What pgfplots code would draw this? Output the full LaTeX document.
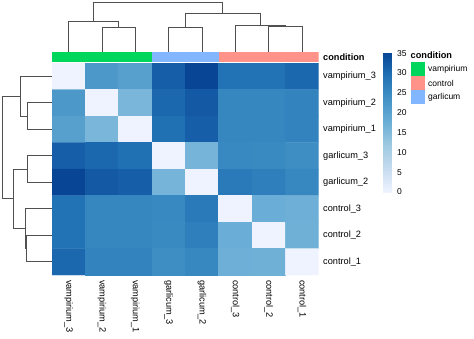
\documentclass[border=0pt]{standalone}
\usepackage{pgfplots}
\usepackage{pgfplotstable}
\pgfplotsset{compat=1.18}
\usepackage{fontspec}
\setmainfont{Liberation Sans}
\definecolor{vamp}{HTML}{00D65C}
\definecolor{ctrl}{HTML}{FF9289}
\definecolor{garl}{HTML}{82B7FF}
\definecolor{tree}{HTML}{505050}
\newcommand\lab{\fontsize{9.2}{11}\selectfont}
\newcommand\leg{\fontsize{8.5}{10}\selectfont}
\pgfplotsset{/pgf/number format/assume math mode=true}
\pgfplotstableread{
x y z
0 0 0
1 0 22.3
2 0 20.5
3 0 32.0
4 0 35.3
5 0 29.2
6 0 29.2
7 0 30.7
0 1 22.3
1 1 0
2 1 16.0
3 1 30.6
4 1 32.6
5 1 25.6
6 1 25.6
7 1 26.2
0 2 20.5
1 2 16.0
2 2 0
3 2 29.6
4 2 32.0
5 2 25.6
6 2 25.6
7 2 26.2
0 3 32.0
1 3 30.6
2 3 29.6
3 3 0
4 3 16.3
5 3 25.4
6 3 25.0
7 3 24.2
0 4 35.3
1 4 32.6
2 4 32.0
3 4 16.3
4 4 0
5 4 27.8
6 4 27.0
7 4 25.5
0 5 29.2
1 5 25.6
2 5 25.6
3 5 25.4
4 5 27.8
5 5 0
6 5 17.8
7 5 17.4
0 6 29.2
1 6 25.6
2 6 25.6
3 6 25.0
4 6 27.0
5 6 17.8
6 6 0
7 6 17.2
0 7 30.7
1 7 26.2
2 7 26.2
3 7 24.2
4 7 25.5
5 7 17.4
6 7 17.2
7 7 0
}\heat
\begin{document}
\begin{tikzpicture}
\path (0pt,0pt) rectangle (474pt,338pt);
% heatmap
\begin{axis}[at={(52pt,63pt)}, anchor=south west, scale only axis,
  width=266.7pt, height=212pt,
  xmin=-0.5, xmax=7.5, ymin=-0.5, ymax=7.5, y dir=reverse,
  axis line style={draw=none}, major tick length=0pt,
  xtick={0,...,7}, ytick={0,...,7},
  xticklabels={vampirium\_3,vampirium\_2,vampirium\_1,garlicum\_3,garlicum\_2,control\_3,control\_2,control\_1},
  yticklabels={vampirium\_3,vampirium\_2,vampirium\_1,garlicum\_3,garlicum\_2,control\_3,control\_2,control\_1},
  yticklabel pos=right,
  xticklabel style={rotate=-90, anchor=west, font=\lab, xshift=1.5pt},
  yticklabel style={anchor=west, font=\lab, xshift=1pt},
  colormap={blues}{rgb255=(239,243,255) rgb255=(198,219,239) rgb255=(158,202,225) rgb255=(107,174,214) rgb255=(66,146,198) rgb255=(33,113,181) rgb255=(8,69,148)},
  point meta min=0, point meta max=35.3,
  colorbar, colorbar shift/.style={},
  colorbar style={at={(parent axis.north east)}, anchor=north west,
    xshift=64.3pt, yshift=11pt, scale only axis, width=8.5pt, height=140pt,
    ytick={0,5,...,35}, axis line style={draw=none}, major tick length=0pt,
    yticklabel style={font=\leg, xshift=2pt}},
]
\addplot[matrix plot*, mesh/cols=8, point meta=explicit] table[meta=z]{\heat};
\end{axis}
% annotation bar
\begin{axis}[at={(52pt,276pt)}, anchor=south west, scale only axis,
  width=266.7pt, height=10pt, xmin=-0.5, xmax=7.5, ymin=0, ymax=1, hide axis]
\addplot[fill=vamp, draw=none] coordinates {(-0.5,0) (2.5,0) (2.5,1) (-0.5,1)};
\addplot[fill=garl, draw=none] coordinates {(2.5,0) (4.5,0) (4.5,1) (2.5,1)};
\addplot[fill=ctrl, draw=none] coordinates {(4.5,0) (7.5,0) (7.5,1) (4.5,1)};
\end{axis}
\node[anchor=west, font=\lab\bfseries, inner sep=0pt] at (323pt,281pt) {condition};
% top dendrogram
\begin{axis}[at={(52pt,286pt)}, anchor=south west, scale only axis,
  width=266.7pt, height=49.3pt, xmin=-0.5, xmax=7.5, ymin=0, ymax=1,
  hide axis, clip=false]
\addplot[tree, line width=0.8pt] coordinates {(1,0) (1,0.5) (2,0.5) (2,0)};
\addplot[tree, line width=0.8pt] coordinates {(0,0) (0,0.63) (1.5,0.63) (1.5,0.5)};
\addplot[tree, line width=0.8pt] coordinates {(3,0) (3,0.5) (4,0.5) (4,0)};
\addplot[tree, line width=0.8pt] coordinates {(6,0) (6,0.51) (7,0.51) (7,0)};
\addplot[tree, line width=0.8pt] coordinates {(5,0) (5,0.54) (6.5,0.54) (6.5,0.51)};
\addplot[tree, line width=0.8pt] coordinates {(3.5,0.5) (3.5,0.785) (5.75,0.785) (5.75,0.54)};
\addplot[tree, line width=0.8pt] coordinates {(0.75,0.63) (0.75,1) (4.625,1) (4.625,0.785)};
\end{axis}
% left dendrogram
\begin{axis}[at={(2.7pt,63pt)}, anchor=south west, scale only axis,
  width=49pt, height=212pt, xmin=0, xmax=1, x dir=reverse,
  ymin=-0.5, ymax=7.5, y dir=reverse, hide axis, clip=false]
\addplot[tree, line width=0.8pt] coordinates {(0,1) (0.5,1) (0.5,2) (0,2)};
\addplot[tree, line width=0.8pt] coordinates {(0,0) (0.63,0) (0.63,1.5) (0.5,1.5)};
\addplot[tree, line width=0.8pt] coordinates {(0,3) (0.5,3) (0.5,4) (0,4)};
\addplot[tree, line width=0.8pt] coordinates {(0,6) (0.51,6) (0.51,7) (0,7)};
\addplot[tree, line width=0.8pt] coordinates {(0,5) (0.54,5) (0.54,6.5) (0.51,6.5)};
\addplot[tree, line width=0.8pt] coordinates {(0.5,3.5) (0.785,3.5) (0.785,5.75) (0.54,5.75)};
\addplot[tree, line width=0.8pt] coordinates {(0.63,0.75) (1,0.75) (1,4.625) (0.785,4.625)};
\end{axis}
% condition legend
\node[anchor=west, font=\lab\bfseries, inner sep=0pt] at (410.5pt,283pt) {condition};
\fill[vamp] (411pt,276pt) rectangle (425pt,262pt);
\fill[ctrl] (411pt,262pt) rectangle (425pt,248pt);
\fill[garl] (411pt,248pt) rectangle (425pt,234pt);
\node[anchor=west, font=\leg, inner sep=0pt] at (428pt,269pt) {vampirium};
\node[anchor=west, font=\leg, inner sep=0pt] at (428pt,255pt) {control};
\node[anchor=west, font=\leg, inner sep=0pt] at (428pt,241pt) {garlicum};
\end{tikzpicture}
\end{document}
